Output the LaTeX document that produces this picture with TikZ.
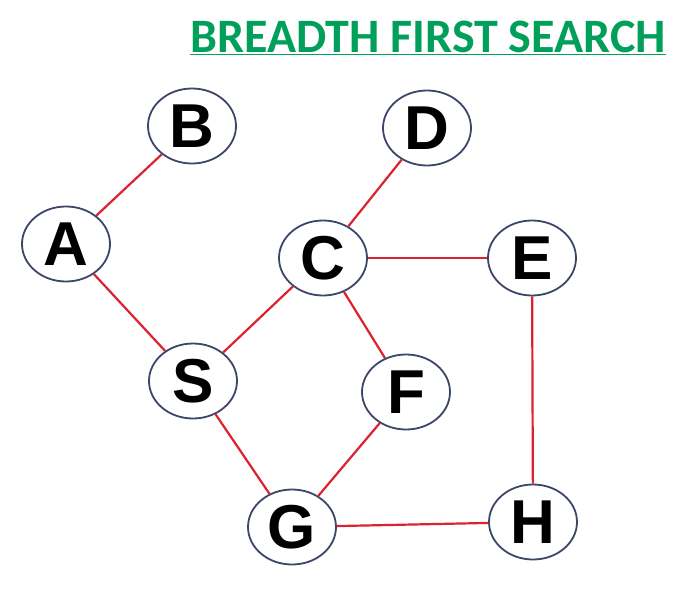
\documentclass[tikz,border=0pt]{standalone}
\usepackage{fontspec}
\setmainfont{Liberation Sans}
\newfontfamily\titlefont{Carlito}
\usetikzlibrary{shapes.geometric}
\definecolor{edgered}{RGB}{220,35,45}
\definecolor{ringblue}{RGB}{60,70,105}
\definecolor{titlegreen}{RGB}{0,160,90}
\begin{document}
\begin{tikzpicture}[x=1pt,y=-1pt,
  vert/.style={ellipse,draw=ringblue,line width=1.8pt,fill=white,minimum width=88pt,minimum height=75pt,inner sep=0pt,font=\fontsize{62}{62}\selectfont\bfseries},
  edge/.style={draw=edgered,line width=2.2pt}]
\useasboundingbox (0,0) rectangle (700,591);
\node[font=\titlefont\fontsize{48}{48}\selectfont\bfseries,text=titlegreen] (title) at (428,38) {\underline{BREADTH FIRST SEARCH}};
\node[vert] (B) at (192,126) {B};
\node[vert] (D) at (427,128) {D};
\node[vert] (A) at (66,244) {A};
\node[vert] (C) at (323,258) {C};
\node[vert] (E) at (532,258) {E};
\node[vert] (S) at (193,381) {S};
\node[vert] (F) at (406,392) {F};
\node[vert] (G) at (292,527) {G};
\node[vert] (H) at (533,522) {H};
\path[edge] (A) -- (B);
\path[edge] (A) -- (S);
\path[edge] (S) -- (C);
\path[edge] (C) -- (D);
\path[edge] (C) -- (E);
\path[edge] (C) -- (F);
\path[edge] (S) -- (G);
\path[edge] (F) -- (G);
\path[edge] (G) -- (H);
\path[edge] (E) -- (H);
\end{tikzpicture}
\end{document}
